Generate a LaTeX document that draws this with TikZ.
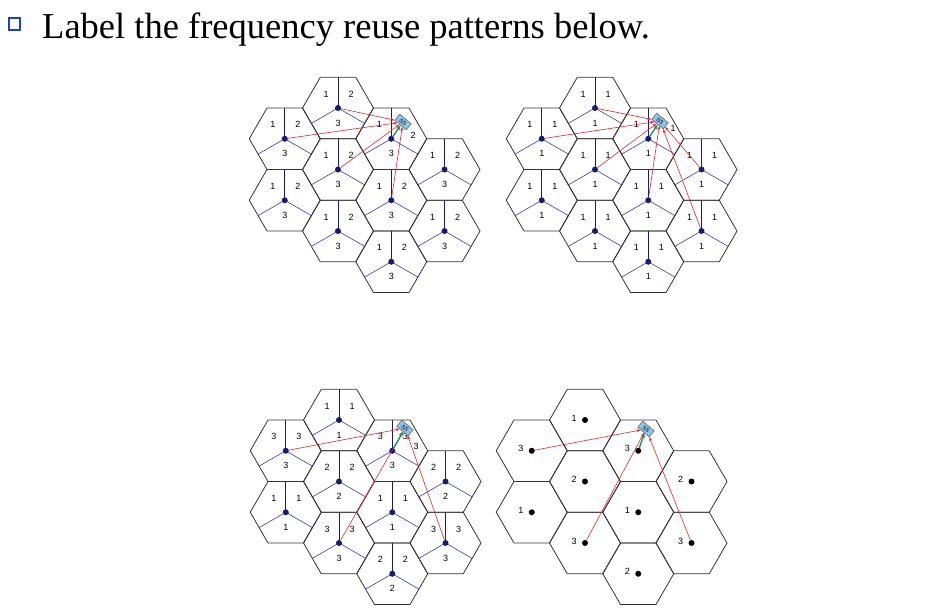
\documentclass[tikz,border=0pt]{standalone}
\usepackage{fontspec}
\setmainfont{Liberation Serif}
\newfontfamily\lab{Liberation Sans}
\usetikzlibrary{arrows.meta}
\definecolor{navy}{HTML}{1A1A6E}
\definecolor{secblue}{HTML}{3A3AA0}
\definecolor{arrred}{HTML}{E02828}
\definecolor{arrgreen}{HTML}{2E8B57}
\definecolor{ssfill}{HTML}{8EC3E8}
\definecolor{bullet}{HTML}{2040C0}
\tikzset{
 hexe/.style={draw=black!80,line width=0.8pt},
 secv/.style={draw=navy,line width=0.8pt},
 secd/.style={draw=secblue,line width=0.6pt},
 dot/.style={circle,fill=navy,inner sep=0pt,minimum size=6pt},
 bdot/.style={circle,fill=black,inner sep=0pt,minimum size=6pt},
 num/.style={font=\lab\fontsize{9}{10}\selectfont,inner sep=0pt},
 interf/.style={draw=arrred,line width=0.6pt,-{Stealth[length=4pt,width=3pt]}},
 own/.style={draw=arrgreen,line width=1.4pt,-{Stealth[length=5pt,width=4pt]}},
 ssbox/.style={draw=black!70,fill=ssfill,rotate=-40,inner sep=0.6pt,minimum width=15pt,minimum height=8pt,font=\lab\fontsize{5.5}{6}\selectfont}
}
\def\R{35.5}
\newcommand\hexat[2]{\draw[hexe,shift={(#1,#2)}] (0:\R) -- (60:\R) -- (120:\R) -- (180:\R) -- (240:\R) -- (300:\R) -- cycle;}
\newcommand\sectors[5]{% x y a b c
 \draw[secv,shift={(#1,#2)}] (0,0) -- (-90:30.7);
 \draw[secd,shift={(#1,#2)}] (0,0) -- (150:30.7) (0,0) -- (30:30.7);
 \node[num] at (#1-12,#2-14) {#3};
 \node[num] at (#1+13,#2-14) {#4};
 \node[num] at (#1,#2+15) {#5};}
\begin{document}
\begin{tikzpicture}[x=1pt,y=-1pt]
\useasboundingbox (0,0) rectangle (936,608);
\fill[white] (0,0) rectangle (936,608);
% title
\draw[bullet,line width=1.4pt] (9,18) rectangle (20,30);
\node[anchor=base west,inner sep=0pt,font=\fontsize{36.5}{40}\selectfont] (title) at (42,38) {Label the frequency reuse patterns below.};
% pattern 1 (top left)
\foreach \c/\r/\a/\b/\d [count=\i] in {0/0/1/2/3,-1/0.5/1/2/3,1/0.5/1/2/3,0/1/1/2/3,2/1/1/2/3,-1/1.5/1/2/3,1/1.5/1/2/3,0/2/1/2/3,2/2/1/2/3,1/2.5/1/2/3}{
 \pgfmathsetmacro\px{338+53.25*\c}\pgfmathsetmacro\py{108+61.5*\r}
 \hexat{\px}{\py}\sectors{\px}{\py}{\a}{\b}{\d}
 \node[dot] (a\i) at (\px,\py) {};}
\node[ssbox] (ssa) at (403,122) {SS};
\node[num,fill=white,inner sep=0.3pt] at (413,135) {2};
\foreach \i in {1,2,4,7} \draw[interf] (a\i) -- (ssa);
\draw[own] (a3) -- (ssa);
% pattern 2 (top right)
\foreach \c/\r [count=\i] in {0/0,-1/0.5,1/0.5,0/1,2/1,-1/1.5,1/1.5,0/2,2/2,1/2.5}{
 \pgfmathsetmacro\px{595+53.25*\c}\pgfmathsetmacro\py{108+61.5*\r}
 \hexat{\px}{\py}\sectors{\px}{\py}{1}{1}{1}
 \node[dot] (b\i) at (\px,\py) {};}
\node[ssbox] (ssb) at (660,121) {SS};
\node[num,fill=white,inner sep=0.3pt] at (673,128) {1};
\foreach \i in {1,2,4,7,5,9} \draw[interf] (b\i) -- (ssb);
\draw[own] (b3) -- (ssb);
% pattern 3 (bottom left)
\foreach \c/\r/\l [count=\i] in {0/0/1,-1/0.5/3,1/0.5/3,0/1/2,2/1/2,-1/1.5/1,1/1.5/1,0/2/3,2/2/3,1/2.5/2}{
 \pgfmathsetmacro\px{339+53.25*\c}\pgfmathsetmacro\py{420+61.5*\r}
 \hexat{\px}{\py}\sectors{\px}{\py}{\l}{\l}{\l}
 \node[dot] (c\i) at (\px,\py) {};}
\node[ssbox] (ssc) at (405,428) {SS};
\node[num,fill=white,inner sep=0.3pt] at (416,446) {3};
\foreach \i in {2,8,9} \draw[interf] (c\i) -- (ssc);
\draw[own] (c3) -- (ssc);
% pattern 4 (bottom right)
\foreach \c/\r/\l [count=\i] in {0/0/1,-1/0.5/3,1/0.5/3,0/1/2,2/1/2,-1/1.5/1,1/1.5/1,0/2/3,2/2/3,1/2.5/2}{
 \pgfmathsetmacro\px{585+53.25*\c}\pgfmathsetmacro\py{420+61.5*\r}
 \hexat{\px}{\py}
 \node[bdot] (d\i) at (\px,\py) {};
 \node[num] at (\px-11,\py-2) {\l};}
\node[ssbox] (ssd) at (646,429) {SS};
\foreach \i in {2,8,9} \draw[interf] (d\i) -- (ssd);
\draw[own] (d3) -- (ssd);
\end{tikzpicture}
\end{document}
